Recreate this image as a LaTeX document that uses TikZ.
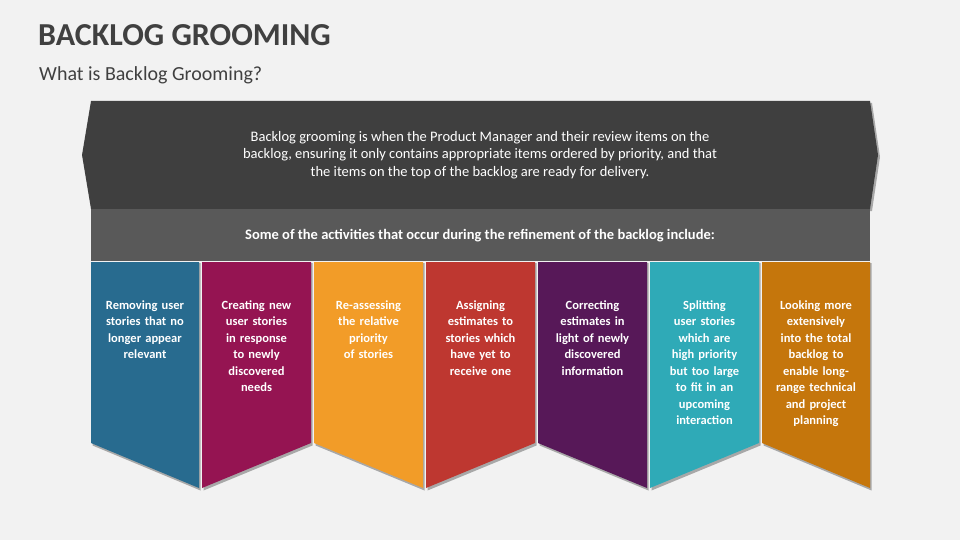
\documentclass[tikz,border=0pt]{standalone}
\usepackage{fontspec}
\setmainfont{Carlito}
\begin{document}
\begin{tikzpicture}[x=1pt,y=-1pt,
  coltext/.style={text=white,font=\bfseries\fontsize{12.5}{16.5}\selectfont,align=center,text width=80pt,anchor=north},
  shad/.style={fill=black,opacity=0.3}]
\useasboundingbox (0,0) rectangle (960,540);
\fill[fill={rgb,255:red,242;green,242;blue,242}] (0,0) rectangle (960,540);
\definecolor{c1}{RGB}{40,107,143}
\definecolor{c2}{RGB}{149,20,82}
\definecolor{c3}{RGB}{242,156,40}
\definecolor{c4}{RGB}{190,55,48}
\definecolor{c5}{RGB}{87,24,88}
\definecolor{c6}{RGB}{47,170,183}
\definecolor{c7}{RGB}{197,118,12}
\node[anchor=west,font=\bfseries\fontsize{32}{36}\selectfont,text={rgb,255:red,64;green,64;blue,64},inner sep=0] (title) at (38,35) {BACKLOG GROOMING};
\node[anchor=west,font=\fontsize{20}{24}\selectfont,text={rgb,255:red,64;green,64;blue,64},inner sep=0] (sub) at (39,75) {What is Backlog Grooming?};
% top shape
\fill[shad] (93,103) -- (872,103) -- (880,157) -- (872,211) -- (93,211) -- (84,157) -- cycle;
\fill[fill={rgb,255:red,63;green,63;blue,63}] (91,101) -- (870,101) -- (878,155) -- (870,209) -- (91,209) -- (82,155) -- cycle;
\node[text=white,font=\fontsize{14.5}{17.5}\selectfont,align=center] (intro) at (480,155) {Backlog grooming is when the Product Manager and their review items on the\\backlog, ensuring it only contains appropriate items ordered by priority, and that\\the items on the top of the backlog are ready for delivery.};
\fill[fill={rgb,255:red,89;green,89;blue,89}] (91,209) rectangle (870,261);
\node[text=white,font=\bfseries\fontsize{14.5}{17}\selectfont] (act) at (480,236) {Some of the activities that occur during the refinement of the backlog include:};
\foreach \i/\xa/\xb/\c/\t in {
1/91/199/c1/{Removing user stories that no longer appear relevant},
2/202/311/c2/{Creating new user stories in response to newly discovered needs},
3/314/423/c3/{Re-assessing the relative priority of stories},
4/426/535/c4/{Assigning estimates to stories which have yet to receive one},
5/538/647/c5/{Correcting estimates in light of newly discovered information},
6/650/759/c6/{Splitting user stories which are high priority but too large to fit in an upcoming interaction},
7/762/870/c7/{Looking more extensively into the total backlog to enable long-range technical and project planning}}{
  \ifodd\i
    \fill[shad] (\xa+1.5,263) -- (\xb+1.5,263) -- (\xb+1.5,490.5) -- (\xa+1.5,445.5) -- cycle;
    \fill[\c] (\xa,262) -- (\xb,262) -- (\xb,488) -- (\xa,443) -- cycle;
  \else
    \fill[shad] (\xa+1.5,263) -- (\xb+1.5,263) -- (\xb+1.5,445.5) -- (\xa+1.5,490.5) -- cycle;
    \fill[\c] (\xa,262) -- (\xb,262) -- (\xb,443) -- (\xa,488) -- cycle;
  \fi
  \node[coltext] (col\i) at ({(\xa+\xb)/2},297) {\t};
}
\end{tikzpicture}
\end{document}
